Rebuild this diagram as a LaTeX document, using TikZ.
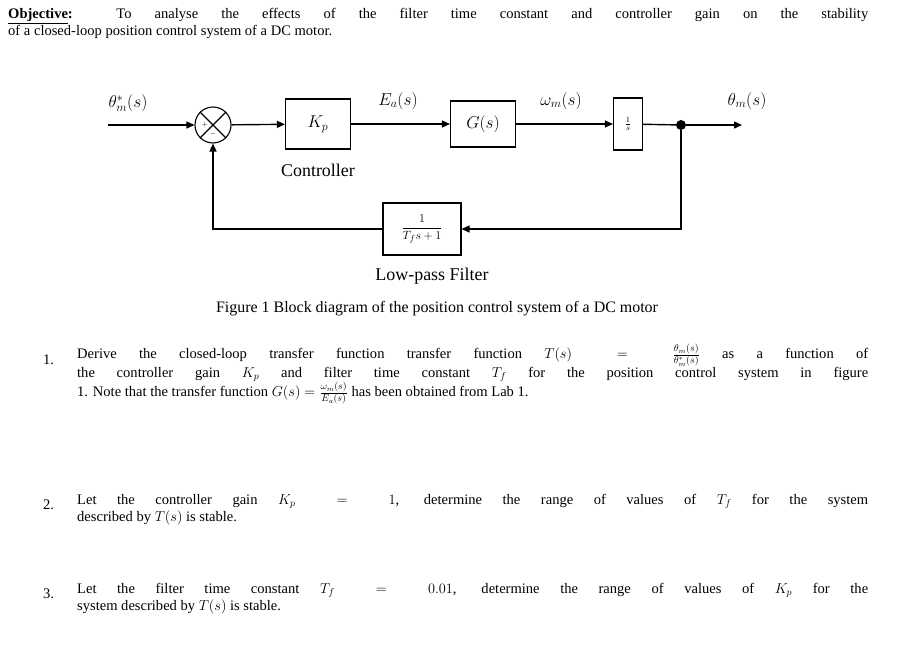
\documentclass[tikz,border=0pt]{standalone}
\usepackage{amsmath}
\usepackage{fontspec}
\setmainfont{Liberation Serif}
\usetikzlibrary{arrows.meta}
\begin{document}
\begin{tikzpicture}[x=1bp,y=-1bp,
  blk/.style={draw,line width=1.1pt,minimum width=65bp,minimum height=50bp,inner sep=0pt},
  sig/.style={line width=1.4pt,-{Triangle[length=8bp,width=7bp]}},
  wire/.style={line width=1.4pt},
  dlab/.style={font=\fontsize{17}{20}\selectfont},
  txt/.style={font=\fontsize{14.6}{17}\selectfont,inner sep=0pt,anchor=base west}]
\useasboundingbox (0,0) rectangle (908,652);
% texts
\node[txt,text width=860bp,align=justify,anchor=north west] (obj) at (8,8)
 {\fontsize{14.6}{28}\selectfont\textbf{\underline{Objective}:} To analyse the effects of the filter time constant and controller gain on the stability\linebreak of a closed-loop position control system of a DC motor.};
% diagram
\node[draw,circle,line width=1.1pt,minimum size=36bp,inner sep=0pt] (sum) at (213,125) {};
\draw[line width=1.1pt] (sum.north west) -- (sum.south east) (sum.north east) -- (sum.south west);
\node[font=\scriptsize] at (205,125) {$+$};
\node[font=\scriptsize] at (213,134) {$-$};
\node[blk] (kp) at (318,124) {\fontsize{17}{20}\selectfont$K_p$};
\node[blk,minimum height=46bp] (g) at (483,124) {\fontsize{17}{20}\selectfont$G(s)$};
\node[blk,minimum width=29bp,minimum height=52bp] (int) at (628,124) {\fontsize{12}{14}\selectfont$\frac{1}{s}$};
\node[blk,minimum width=78bp,minimum height=52bp] (filt) at (422,229) {\fontsize{13}{15}\selectfont$\dfrac{1}{T_f s+1}$};
\node[circle,fill,inner sep=0pt,minimum size=10bp] (dot) at (681,125) {};
\coordinate (in) at (108,125);
\coordinate (out) at (742,125);
\draw[sig] (in) -- (sum);
\draw[sig] (sum) -- (kp);
\draw[sig] (kp) -- (g);
\draw[sig] (g) -- (int);
\draw[wire] (int) -- (dot);
\draw[sig] (dot) -- (out);
\draw[sig] (dot) |- (filt);
\draw[sig] (filt) -| (sum);
\node[dlab] (l1) at (128,103) {$\theta_m^*(s)$};
\node[dlab] (l2) at (398,101) {$E_a(s)$};
\node[dlab] (l3) at (561,101) {$\omega_m(s)$};
\node[dlab] (l4) at (747,101) {$\theta_m(s)$};
\node[font=\fontsize{18}{20}\selectfont] (ctl) at (318,170) {Controller};
\node[font=\fontsize{18}{20}\selectfont] (lpf) at (432,276) {Low-pass Filter};
\node[font=\fontsize{16}{20}\selectfont] (cap) at (437,309) {Figure 1 Block diagram of the position control system of a DC motor};
% items
\node[txt] (n1) at (43,364) {1.};
\node[txt,text width=791bp,align=justify,anchor=north west] (i1) at (77,344)
 {\fontsize{14.6}{39.5}\selectfont Derive the closed-loop transfer function transfer function $T(s)=\frac{\theta_m(s)}{\theta_m^*(s)}$ as a function of\linebreak the controller gain $K_p$ and filter time constant $T_f$ for the position control system in figure\linebreak 1. Note that the transfer function $G(s)=\frac{\omega_m(s)}{E_a(s)}$ has been obtained from Lab 1.};
\node[txt] (n2) at (43,509) {2.};
\node[txt,text width=791bp,align=justify,anchor=north west] (i2) at (77,494)
 {\fontsize{14.6}{32}\selectfont Let the controller gain $K_p=1$, determine the range of values of $T_f$ for the system\linebreak described by $T(s)$ is stable.};
\node[txt] (n3) at (43,598) {3.};
\node[txt,text width=791bp,align=justify,anchor=north west] (i3) at (77,583)
 {\fontsize{14.6}{32}\selectfont Let the filter time constant $T_f=0.01$, determine the range of values of $K_p$ for the\linebreak system described by $T(s)$ is stable.};
\end{tikzpicture}
\end{document}
